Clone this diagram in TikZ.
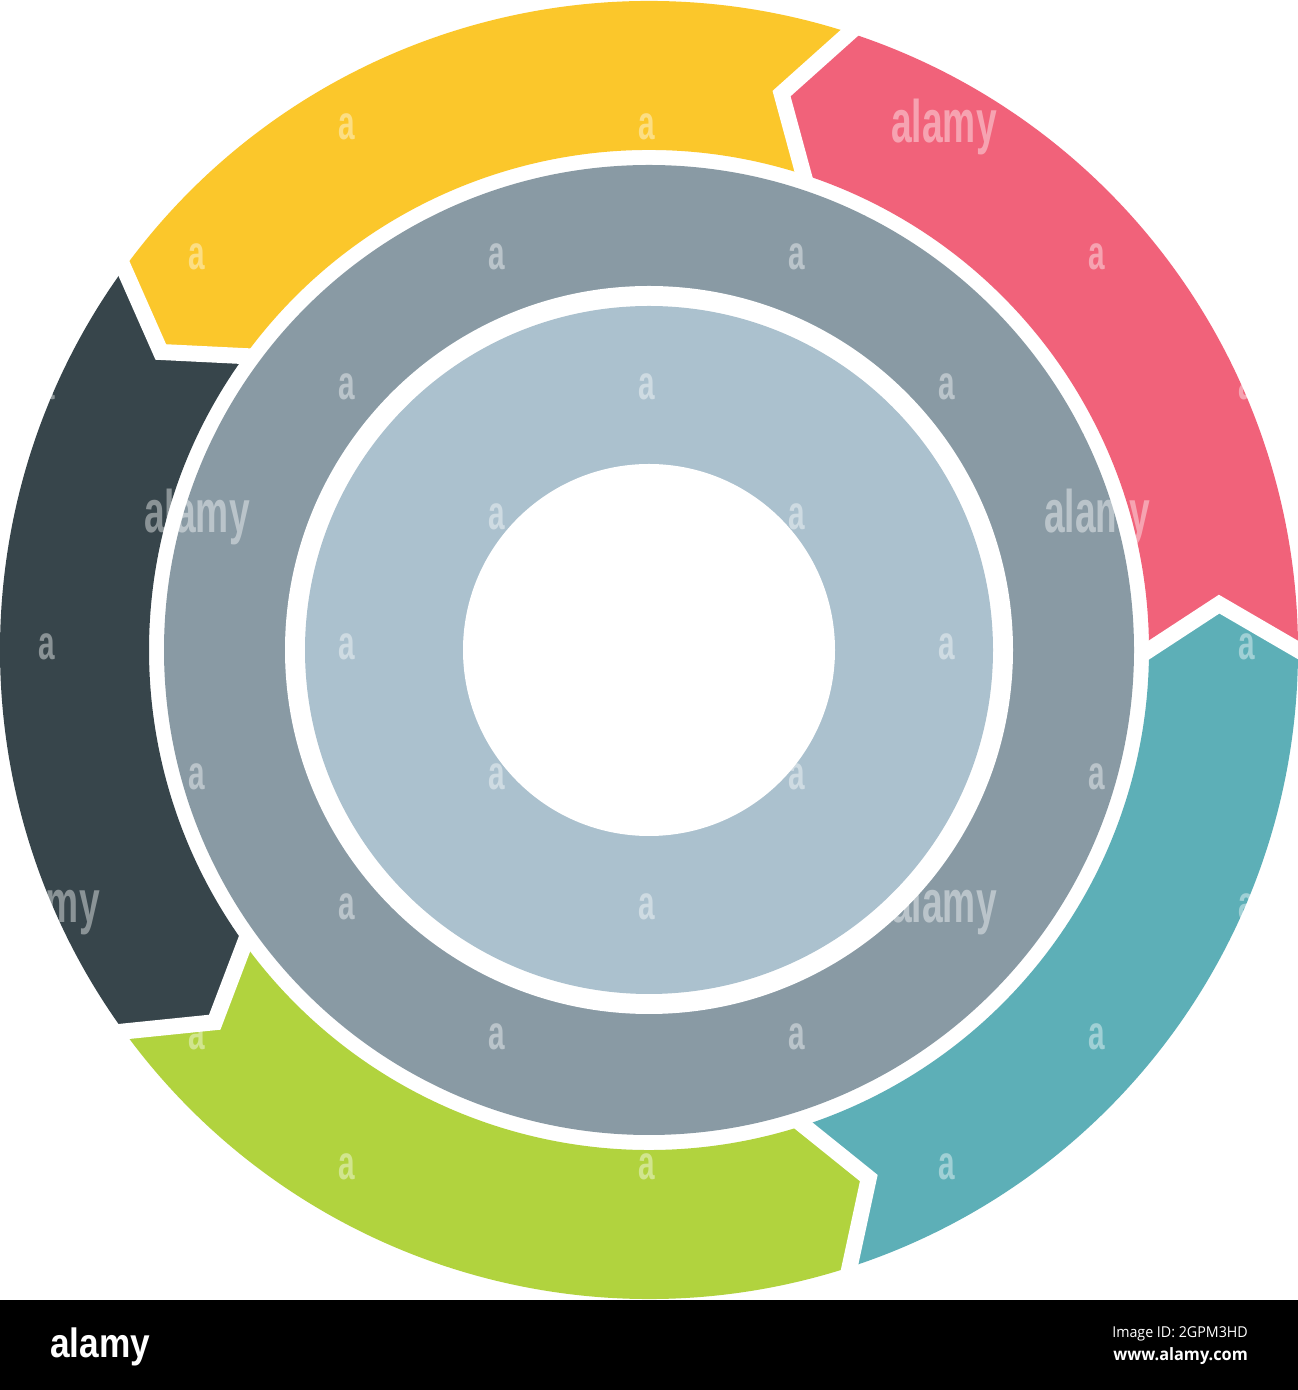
\documentclass[tikz,border=0pt]{standalone}
\usepackage{fontspec}
\usetikzlibrary{calc}
\setmainfont{Liberation Sans}
\newfontfamily\osans{Open Sans}
\definecolor{cyel}{HTML}{FBC72B}
\definecolor{cpink}{HTML}{F1627A}
\definecolor{cteal}{HTML}{5DAFB7}
\definecolor{cgreen}{HTML}{B1D33E}
\definecolor{cdark}{HTML}{37454B}
\definecolor{cgray}{HTML}{899AA4}
\definecolor{clight}{HTML}{ABC1CE}
\tikzset{
  sep/.style={white, line width=16pt, line join=miter},
  wma/.style={anchor=base, text=white, text opacity=0.42, inner sep=0pt, xscale=0.62,
    font=\fontsize{48}{48}\selectfont\bfseries},
  wmw/.style={anchor=base, text=white, text opacity=0.42, inner sep=0pt, xscale=0.62,
    font=\fontsize{60}{60}\selectfont\bfseries},
}
\begin{document}
\begin{tikzpicture}[x=1pt,y=1pt]
\useasboundingbox (0,0) rectangle (1298,1390);
\fill[white] (0,0) rectangle (1298,1390);
\begin{scope}[shift={(649,740)}]
  % arrow segments (heads point counter-clockwise)
  \foreach \a/\c [evaluate=\a as \b using \a+72, evaluate=\a as \bt using \a+76.6, evaluate=\a as \at using \a+4.6] in {0/cpink,72/cyel,144/cdark,216/cgreen,288/cteal}{
    \fill[\c] (\a:649) arc[start angle=\a, end angle=\b, radius=649]
      -- (\bt:572) -- (\b:500) arc[start angle=\b, end angle=\a, radius=500]
      -- (\at:572) -- cycle;
  }
  % white separators, extended along their own direction
  \foreach \a [evaluate=\a as \at using \a+4.6] in {0,72,144,216,288}{
    \draw[sep] ($(\a:649)!-0.3!(\at:572)$) -- (\at:572) -- ($(\a:500)!-0.3!(\at:572)$);
  }
  % inner rings
  \fill[cgray] (0,0) circle[radius=485];
  \fill[white] (0,0) circle[radius=364];
  \fill[clight] (0,0) circle[radius=344];
  \fill[white] (0,0) circle[radius=186];
\end{scope}
% watermark letters
\foreach \x/\r [count=\i] in {47/127,347/127,647/127,1247/127,
  197/257,497/257,797/257,1097/257,
  47/387,347/387,647/387,947/387,1247/387,
  497/517,797/517,
  47/647,347/647,947/647,1247/647,
  197/777,497/777,797/777,1097/777,
  347/907,647/907,1247/907,
  197/1037,497/1037,797/1037,1097/1037,
  47/1167,347/1167,647/1167,947/1167,1247/1167}{
  \node[wma] (wa\i) at (\x,{1377-\r}) {a};
}
\foreach \x/\r [count=\i] in {944/127,197/517,1097/517,47/907,944/907}{
  \node[wmw] (ww\i) at (\x,{1374-\r}) {alamy};
}
% bottom bar
\fill[black] (0,0) rectangle (1298,90);
\node[anchor=base, text=white, inner sep=0pt, xscale=0.86,
  font=\fontsize{41}{41}\selectfont\bfseries] (logo) at (100,32) {alamy};
\node[anchor=base east, text=white, inner sep=0pt, xscale=0.95,
  font=\osans\fontsize{15}{15}\selectfont] (imgid) at (1248,52.7) {Image ID: 2GPM3HD};
\node[anchor=base east, text=white, inner sep=0pt, xscale=0.96,
  font=\osans\fontsize{17}{17}\selectfont\bfseries] (url) at (1248,29.3) {www.alamy.com};
\end{tikzpicture}
\end{document}
